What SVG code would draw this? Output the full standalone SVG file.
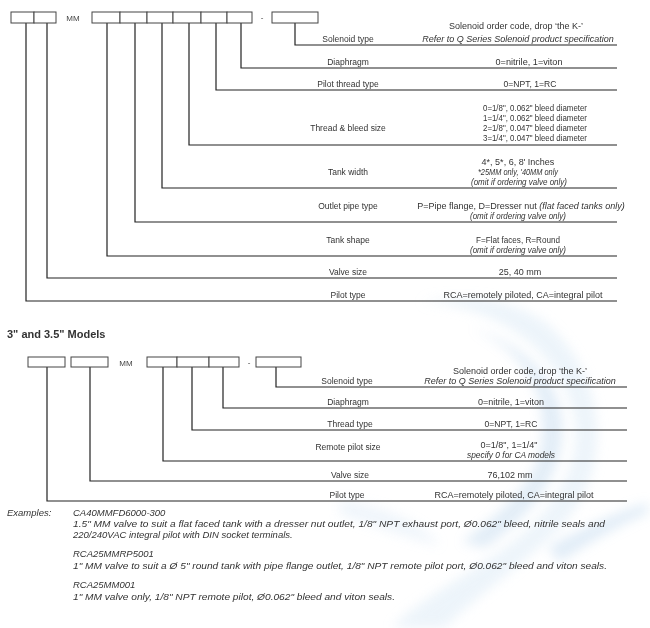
<svg xmlns="http://www.w3.org/2000/svg" width="650" height="628" viewBox="0 0 650 628">
<defs>
<filter id="soft" x="-20%" y="-20%" width="140%" height="140%"><feGaussianBlur stdDeviation="6"/></filter>
<style>
.box{fill:#fff;stroke:#444;stroke-width:1}
.con{fill:none;stroke:#222;stroke-width:1.2}
.lbl{font-family:"Liberation Sans",Arial,sans-serif;font-size:8.5px;fill:#333;text-anchor:middle}
.val{font-family:"Liberation Sans",Arial,sans-serif;font-size:9px;fill:#333;text-anchor:middle}
.sm{font-size:8.5px}
.it{font-style:italic}
.ex{font-family:"Liberation Sans",Arial,sans-serif;font-size:9.5px;fill:#333;font-style:italic}
.mm{font-family:"Liberation Sans",Arial,sans-serif;font-size:8px;fill:#444;text-anchor:middle}
.hd{font-family:"Liberation Sans",Arial,sans-serif;font-size:11px;font-weight:bold;fill:#333}
</style>
</defs>
<rect width="650" height="628" fill="#fff"/>
<g id="watermark" filter="url(#soft)" opacity="0.55">
<path d="M420,302 C500,305 565,355 575,420 C582,475 545,525 480,565 C440,590 405,612 392,628 L445,628 C470,600 525,565 565,522 C615,465 605,372 545,322 C510,298 465,294 420,302 Z" fill="#d6e7f5" opacity="0.8"/>
<path d="M470,328 C522,348 548,392 542,442 C537,482 502,512 462,542 L485,548 C535,512 566,472 562,420 C558,378 522,342 470,328 Z" fill="#a8cae8" opacity="0.6"/>
<path d="M340,500 C380,505 420,520 440,545 C410,540 375,525 340,515 Z" fill="#d0e3f4" opacity="0.6"/>
<path d="M548,548 C585,526 622,510 648,503 L648,513 C622,523 590,542 560,562 Z" fill="#bcd6ee" opacity="0.8"/>
</g>
<g id="connectors">
<path class="con" d="M26,23 V301 H617"/>
<path class="con" d="M47,23 V278 H617"/>
<path class="con" d="M107,23 V256 H617"/>
<path class="con" d="M135,23 V222 H617"/>
<path class="con" d="M162,23 V188 H617"/>
<path class="con" d="M189,23 V145 H617"/>
<path class="con" d="M216,23 V90 H617"/>
<path class="con" d="M241,23 V68 H617"/>
<path class="con" d="M295,23 V45 H617"/>
<path class="con" d="M47,367 V501 H627"/>
<path class="con" d="M90,367 V481 H627"/>
<path class="con" d="M163,367 V461 H627"/>
<path class="con" d="M192,367 V430 H627"/>
<path class="con" d="M223,367 V408 H627"/>
<path class="con" d="M276,367 V387 H627"/>
</g>
<g id="s1-box-pilot"><rect class="box" x="11" y="12" width="23" height="11"/></g>
<g id="s1-box-valve"><rect class="box" x="34" y="12" width="22" height="11"/></g>
<text class="mm" x="73" y="21">MM</text>
<g id="s1-box-shape"><rect class="box" x="92" y="12" width="28" height="11"/></g>
<g id="s1-box-outlet"><rect class="box" x="120" y="12" width="27" height="11"/></g>
<g id="s1-box-width"><rect class="box" x="147" y="12" width="26" height="11"/></g>
<g id="s1-box-thread"><rect class="box" x="173" y="12" width="28" height="11"/></g>
<g id="s1-box-pthread"><rect class="box" x="201" y="12" width="26" height="11"/></g>
<g id="s1-box-diaph"><rect class="box" x="227" y="12" width="25" height="11"/></g>
<text class="mm" x="262" y="20">-</text>
<g id="s1-box-solenoid"><rect class="box" x="272" y="12" width="46" height="11"/></g>
<g id="s1-solenoid">
<text class="val" x="516" y="29">Solenoid order code, drop ‘the K-’</text>
<text class="lbl" x="348" y="42">Solenoid type</text>
<text class="val it" x="518" y="42">Refer to Q Series Solenoid product specification</text>
</g>
<g id="s1-diaphragm"><text class="lbl" x="348" y="65">Diaphragm</text><text class="val" x="529" y="65" textLength="67" lengthAdjust="spacingAndGlyphs">0=nitrile, 1=viton</text></g>
<g id="s1-pilot-thread"><text class="lbl" x="348" y="87">Pilot thread type</text><text class="val" x="530" y="87" textLength="53" lengthAdjust="spacingAndGlyphs">0=NPT, 1=RC</text></g>
<g id="s1-thread-bleed">
<text class="lbl" x="348" y="131">Thread &amp; bleed size</text>
<text class="val sm" x="535" y="111" textLength="104" lengthAdjust="spacingAndGlyphs">0=1/8", 0.062" bleed diameter</text>
<text class="val sm" x="535" y="121" textLength="104" lengthAdjust="spacingAndGlyphs">1=1/4", 0.062" bleed diameter</text>
<text class="val sm" x="535" y="131" textLength="104" lengthAdjust="spacingAndGlyphs">2=1/8", 0.047" bleed diameter</text>
<text class="val sm" x="535" y="141" textLength="104" lengthAdjust="spacingAndGlyphs">3=1/4", 0.047" bleed diameter</text>
</g>
<g id="s1-tank-width">
<text class="lbl" x="348" y="175">Tank width</text>
<text class="val" x="518" y="165">4*, 5*, 6, 8ʹ Inches</text>
<text class="val it sm" x="518" y="175" textLength="80" lengthAdjust="spacingAndGlyphs">*25MM only, ʹ40MM only</text>
<text class="val it sm" x="519" y="185" textLength="96" lengthAdjust="spacingAndGlyphs">(omit if ordering valve only)</text>
</g>
<g id="s1-outlet">
<text class="lbl" x="348" y="209">Outlet pipe type</text>
<text class="val" x="521" y="209">P=Pipe flange, D=Dresser nut <tspan class="it">(flat faced tanks only)</tspan></text>
<text class="val it sm" x="518" y="219" textLength="96" lengthAdjust="spacingAndGlyphs">(omit if ordering valve only)</text>
</g>
<g id="s1-tank-shape">
<text class="lbl" x="348" y="243">Tank shape</text>
<text class="val" x="518" y="243" textLength="84" lengthAdjust="spacingAndGlyphs">F=Flat faces,  R=Round</text>
<text class="val it sm" x="518" y="253" textLength="96" lengthAdjust="spacingAndGlyphs">(omit if ordering valve only)</text>
</g>
<g id="s1-valve-size"><text class="lbl" x="348" y="275">Valve size</text><text class="val" x="520" y="275">25, 40 mm</text></g>
<g id="s1-pilot-type"><text class="lbl" x="348" y="298">Pilot type</text><text class="val" x="523" y="298">RCA=remotely piloted, CA=integral pilot</text></g>

<text class="hd" x="7" y="338">3" and 3.5" Models</text>
<g id="s2-box-pilot"><rect class="box" x="28" y="357" width="37" height="10"/></g>
<g id="s2-box-valve"><rect class="box" x="71" y="357" width="37" height="10"/></g>
<text class="mm" x="126" y="366">MM</text>
<g id="s2-box-remote"><rect class="box" x="147" y="357" width="30" height="10"/></g>
<g id="s2-box-thread"><rect class="box" x="177" y="357" width="32" height="10"/></g>
<g id="s2-box-diaph"><rect class="box" x="209" y="357" width="30" height="10"/></g>
<text class="mm" x="249" y="365">-</text>
<g id="s2-box-solenoid"><rect class="box" x="256" y="357" width="45" height="10"/></g>
<g id="s2-solenoid">
<text class="val" x="520" y="374">Solenoid order code, drop ‘the K-’</text>
<text class="lbl" x="347" y="384">Solenoid type</text>
<text class="val it" x="520" y="384">Refer to Q Series Solenoid product specification</text>
</g>
<g id="s2-diaphragm"><text class="lbl" x="348" y="405">Diaphragm</text><text class="val" x="511" y="405">0=nitrile, 1=viton</text></g>
<g id="s2-thread-type"><text class="lbl" x="350" y="427">Thread type</text><text class="val" x="511" y="427" textLength="53" lengthAdjust="spacingAndGlyphs">0=NPT, 1=RC</text></g>
<g id="s2-remote">
<text class="lbl" x="348" y="450">Remote pilot size</text>
<text class="val" x="509" y="448">0=1/8", 1=1/4"</text>
<text class="val it" x="511" y="458" textLength="88" lengthAdjust="spacingAndGlyphs">specify 0 for CA models</text>
</g>
<g id="s2-valve-size"><text class="lbl" x="350" y="478">Valve size</text><text class="val" x="510" y="478">76,102 mm</text></g>
<g id="s2-pilot-type"><text class="lbl" x="347" y="498">Pilot type</text><text class="val" x="514" y="498">RCA=remotely piloted, CA=integral pilot</text></g>

<g id="examples">
<text class="ex" x="7" y="516">Examples:</text>
<text class="ex" x="73" y="516">CA40MMFD6000-300</text>
<text class="ex" x="73" y="527" textLength="532" lengthAdjust="spacingAndGlyphs">1.5" MM valve to suit a flat faced tank with a dresser nut outlet, 1/8" NPT exhaust port, Ø0.062" bleed, nitrile seals and</text>
<text class="ex" x="73" y="538">220/240VAC integral pilot with DIN socket terminals.</text>
<text class="ex" x="73" y="557">RCA25MMRP5001</text>
<text class="ex" x="73" y="569" textLength="534" lengthAdjust="spacingAndGlyphs">1" MM valve to suit a Ø 5" round tank with pipe flange outlet, 1/8" NPT remote pilot port, Ø0.062" bleed and viton seals.</text>
<text class="ex" x="73" y="588">RCA25MM001</text>
<text class="ex" x="73" y="600" textLength="322" lengthAdjust="spacingAndGlyphs">1" MM valve only, 1/8" NPT remote pilot, Ø0.062" bleed and viton seals.</text>
</g>
</svg>
